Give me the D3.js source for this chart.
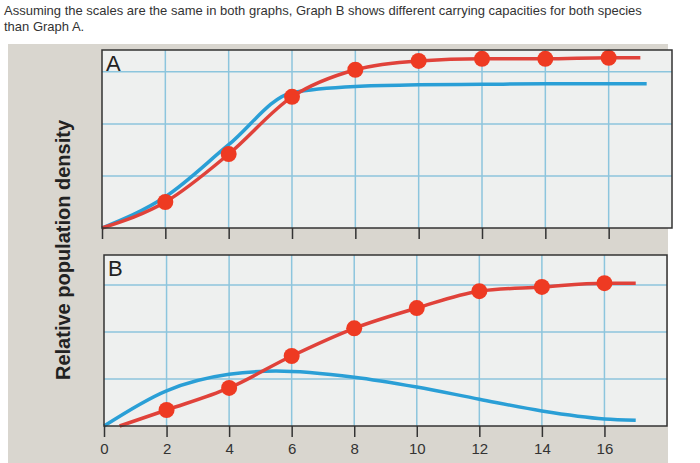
<!DOCTYPE html>
<html><head><meta charset="utf-8">
<script src="https://cdn.jsdelivr.net/npm/d3@7"></script>
<style>body{margin:0;background:#fff}</style>
</head><body>
<div id="chart"></div>
<script>
// time ticks
const xTicks = [0, 2, 4, 6, 8, 10, 12, 14, 16];

// graph A
const aRedX = [0, 2, 4, 6, 8, 10, 12, 14, 16, 17];
const aRedY = [0, 0.5, 1.42, 2.52, 3.04, 3.21, 3.25, 3.25, 3.27, 3.27];
const aBlueX = [0, 2, 4, 6, 8, 10, 12, 14, 16, 17.2];
const aBlueY = [0, 0.6, 1.6, 2.6, 2.72, 2.75, 2.76, 2.77, 2.77, 2.77];

// graph B
const bRedX = [0.5, 2, 4, 6, 8, 10, 12, 14, 16, 17];
const bRedY = [0, 0.34, 0.81, 1.49, 2.08, 2.51, 2.87, 2.96, 3.04, 3.04];
const bBlueX = [0, 2, 4, 5.5, 8, 10, 12, 14, 16, 17];
const bBlueY = [0, 0.75, 1.1, 1.17, 1.04, 0.83, 0.57, 0.32, 0.15, 0.12];

const dotsX = [2, 4, 6, 8, 10, 12, 14, 16];

const W = 700, H = 463;
const svg = d3.select("#chart").append("svg").attr("width", W).attr("height", H);

svg.append("text").attr("x", 4).attr("y", 15)
  .style("font", "13px 'Liberation Sans', Arial").attr("fill", "#333")
  .text("Assuming the scales are the same in both graphs, Graph B shows different carrying capacities for both species");
svg.append("text").attr("x", 4).attr("y", 31)
  .style("font", "13px 'Liberation Sans', Arial").attr("fill", "#333")
  .text("than Graph A.");

svg.append("rect").attr("x", 8).attr("y", 44).attr("width", 660).attr("height", 420).attr("fill", "#d9d6cf");

svg.append("text").attr("transform", "translate(70,250) rotate(-90)")
  .attr("text-anchor", "middle")
  .style("font", "bold 20px 'Liberation Sans', Arial").attr("fill", "#222")
  .text("Relative population density");

function panel(p) {
  const x = d3.scaleLinear().domain([0, 18]).range([p.left, p.right]);
  const y = d3.scaleLinear().domain([0, p.ymax]).range([p.bottom, p.top]);
  const g = svg.append("g");
  g.append("rect").attr("x", p.left).attr("y", p.top)
    .attr("width", p.right - p.left).attr("height", p.bottom - p.top).attr("fill", "#eef0ef");
  g.selectAll(".vg").data(xTicks.slice(1)).enter().append("line")
    .attr("x1", d => x(d)).attr("x2", d => x(d)).attr("y1", p.top).attr("y2", p.bottom)
    .attr("stroke", "#8cc5dd").attr("stroke-width", 1.5);
  g.selectAll(".hg").data([1, 2, 3]).enter().append("line")
    .attr("x1", p.left).attr("x2", p.right).attr("y1", d => y(d)).attr("y2", d => y(d))
    .attr("stroke", "#8cc5dd").attr("stroke-width", 1.5);
  const line = d3.line().x(d => x(d[0])).y(d => y(d[1])).curve(d3.curveMonotoneX);
  g.append("path").datum(d3.zip(p.bx, p.by)).attr("d", line)
    .attr("fill", "none").attr("stroke", "#2a9fd6").attr("stroke-width", 3.5);
  g.append("path").datum(d3.zip(p.rx, p.ry)).attr("d", line)
    .attr("fill", "none").attr("stroke", "#e0423a").attr("stroke-width", 3.5);
  g.selectAll(".dot").data(dotsX).enter().append("circle")
    .attr("cx", d => x(d)).attr("cy", d => y(p.ry[p.rx.indexOf(d)]))
    .attr("r", 8).attr("fill", "#ee3a22");
  g.append("rect").attr("x", p.left).attr("y", p.top)
    .attr("width", p.right - p.left).attr("height", p.bottom - p.top)
    .attr("fill", "none").attr("stroke", "#333").attr("stroke-width", 1.5);
  g.append("text").attr("x", p.left + 4).attr("y", p.top + 21)
    .style("font", "22px 'Liberation Sans', Arial").attr("fill", "#222").text(p.label);
  const ax = g.append("g").attr("transform", `translate(0,${p.bottom})`)
    .call(d3.axisBottom(x).tickValues(xTicks).tickSize(11).tickFormat(p.labels ? d3.format("d") : ""));
  ax.select(".domain").remove();
  ax.selectAll("line").attr("stroke", "#333").attr("stroke-width", 1.5);
  ax.selectAll("text").style("font", "15px 'Liberation Sans', Arial").attr("fill", "#333").attr("dy", "0.9em");
}

panel({left: 102, right: 672, top: 50, bottom: 228, ymax: 3.42, label: "A",
  rx: aRedX, ry: aRedY, bx: aBlueX, by: aBlueY, labels: false});
panel({left: 104, right: 667, top: 255, bottom: 426, ymax: 3.64, label: "B",
  rx: bRedX, ry: bRedY, bx: bBlueX, by: bBlueY, labels: true});
</script>
</body></html>
